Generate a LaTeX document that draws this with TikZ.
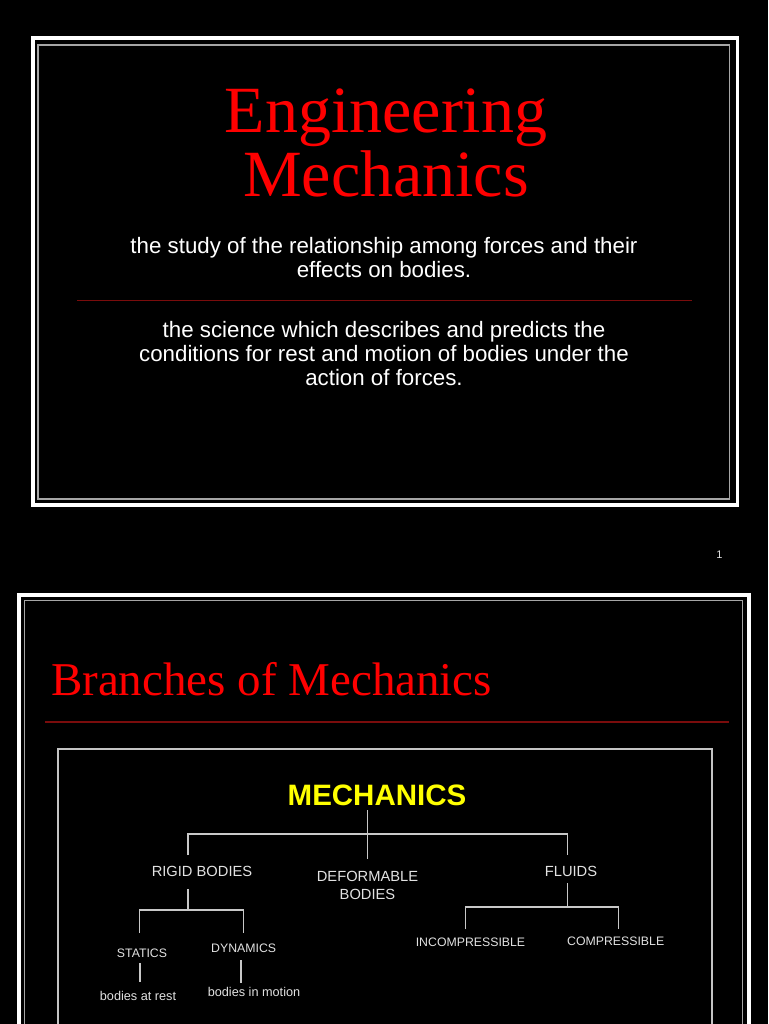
\documentclass[tikz,border=0pt]{standalone}
\usepackage{fontspec}
\setmainfont{Liberation Serif}
\setsansfont{Liberation Sans}
\usetikzlibrary{calc}
\definecolor{slide}{HTML}{000000}
\definecolor{titlered}{HTML}{FF0000}
\definecolor{rulered}{HTML}{7A0C0C}
\definecolor{edge}{HTML}{FFFFFF}
\definecolor{keyline}{HTML}{A6A6A6}
\definecolor{boxline}{HTML}{C4C4C4}
\definecolor{branchline}{HTML}{C8C8C8}
\definecolor{ink}{HTML}{FFFFFF}
\definecolor{tag}{HTML}{E2E2E2}
\definecolor{root}{HTML}{FFFF00}

\begin{document}
\begin{tikzpicture}[x=1pt,y=-1pt,
  heading/.style={text=titlered,inner sep=0pt},
  body/.style={text=ink,inner sep=0pt,align=center,anchor=north,
    font=\sffamily\fontsize{22.3}{24.3}\selectfont},
  cat/.style={text=tag,inner sep=0pt,anchor=base,align=center,
    font=\sffamily\fontsize{14.7}{18}\selectfont},
  sub/.style={text=tag,inner sep=0pt,anchor=base,
    font=\sffamily\fontsize{12.3}{14}\selectfont},
  leaf/.style={text=tag,inner sep=0pt,anchor=base,
    font=\sffamily\fontsize{12.7}{14}\selectfont},
  frame/.style={draw=edge,line width=3.6pt},
  inner/.style={draw=keyline,line width=1.5pt},
  branch/.style={draw=branchline,line width=1.5pt}
]
\useasboundingbox (0,0) rectangle (768,1024);
\clip (0,0) rectangle (768,1024);
\fill[slide] (0,0) rectangle (768,1024);

% slide 1
\draw[frame] (32.8,38) rectangle (737.5,505);
\draw[inner] (38,44.8) rectangle (729.6,499);
\node[heading,align=center,anchor=north,
  font=\rmfamily\fontsize{66}{63.5}\selectfont] (title) at (386,89)
  {Engineering\\Mechanics};
\node[body] (study) at (384,237)
  {the study of the relationship among forces and their\\effects on bodies.};
\draw[rulered,line width=1pt] (77,300.7) -- (692,300.7);
\node[body] (science) at (384,320.7)
  {the science which describes and predicts the\\
   conditions for rest and motion of bodies under the\\action of forces.};
\node[text=tag,inner sep=0pt,anchor=base,font=\sffamily\fontsize{11}{11}\selectfont]
  (pageno) at (719.3,558) {1};

% slide 2
\draw[frame] (19,1100) |- (748.7,594.7) -- (748.7,1100);
\draw[inner] (24.3,1100) |- (742.3,600.3) -- (742.3,1100);
\node[heading,anchor=base west,font=\rmfamily\fontsize{47}{47}\selectfont]
  (branches) at (50.8,695.7) {Branches of Mechanics};
\draw[rulered,line width=2pt] (45,721.7) -- (729.4,721.7);
\draw[boxline,line width=1.5pt] (57.8,1100) |- (711.8,749) -- (711.8,1100);

\node[text=root,inner sep=0pt,anchor=base,
  font=\sffamily\bfseries\fontsize{29.5}{30}\selectfont] (mech) at (377,805) {MECHANICS};
\node[cat] (rigid) at (202,876) {RIGID BODIES};
\node[cat,anchor=north] (deform) at (367.5,871.5) {DEFORMABLE\\BODIES};
\node[cat] (fluids) at (571,876.7) {FLUIDS};
\node[sub] (statics) at (142,957.3) {STATICS};
\node[sub] (dynamics) at (243.7,952) {DYNAMICS};
\node[sub] (incomp) at (470.5,946.7) {INCOMPRESSIBLE};
\node[sub] (comp) at (615.7,945.7) {COMPRESSIBLE};
\node[leaf] (rest) at (138,1000) {bodies at rest};
\node[leaf] (motion) at (254,996.7) {bodies in motion};

\draw[branch] ($(deform.north |- mech.south)+(0,5)$) -- ($(deform.north)+(0,-13)$);
\draw[branch] ($(rigid.north)+(-14,-10.5)$) -- ++(0,-21)
  -| ($(fluids.north)+(-3.4,-11.2)$);
\draw[branch] ($(rigid.south)+(-14,13)$) -- ++(0,21);
\draw[branch] ($(statics.north)+(-2.7,-15.5)$) -- ++(0,-23)
  -| ($(dynamics.north)+(-0.4,-10.2)$);
\draw[branch] ($(statics.south)+(-2,5.4)$) -- ($(rest.north)+(2,-9)$);
\draw[branch] ($(dynamics.south)+(-2.7,8)$) -- ($(motion.north)+(-13,-4)$);
\draw[branch] ($(fluids.south)+(-3.7,6.3)$) -- ++(0,24);
\draw[branch] ($(incomp.north)+(-4.8,-8.6)$) -- ++(0,-22.3)
  -| ($(comp.north)+(2.6,-7.9)$);
\end{tikzpicture}
\end{document}
